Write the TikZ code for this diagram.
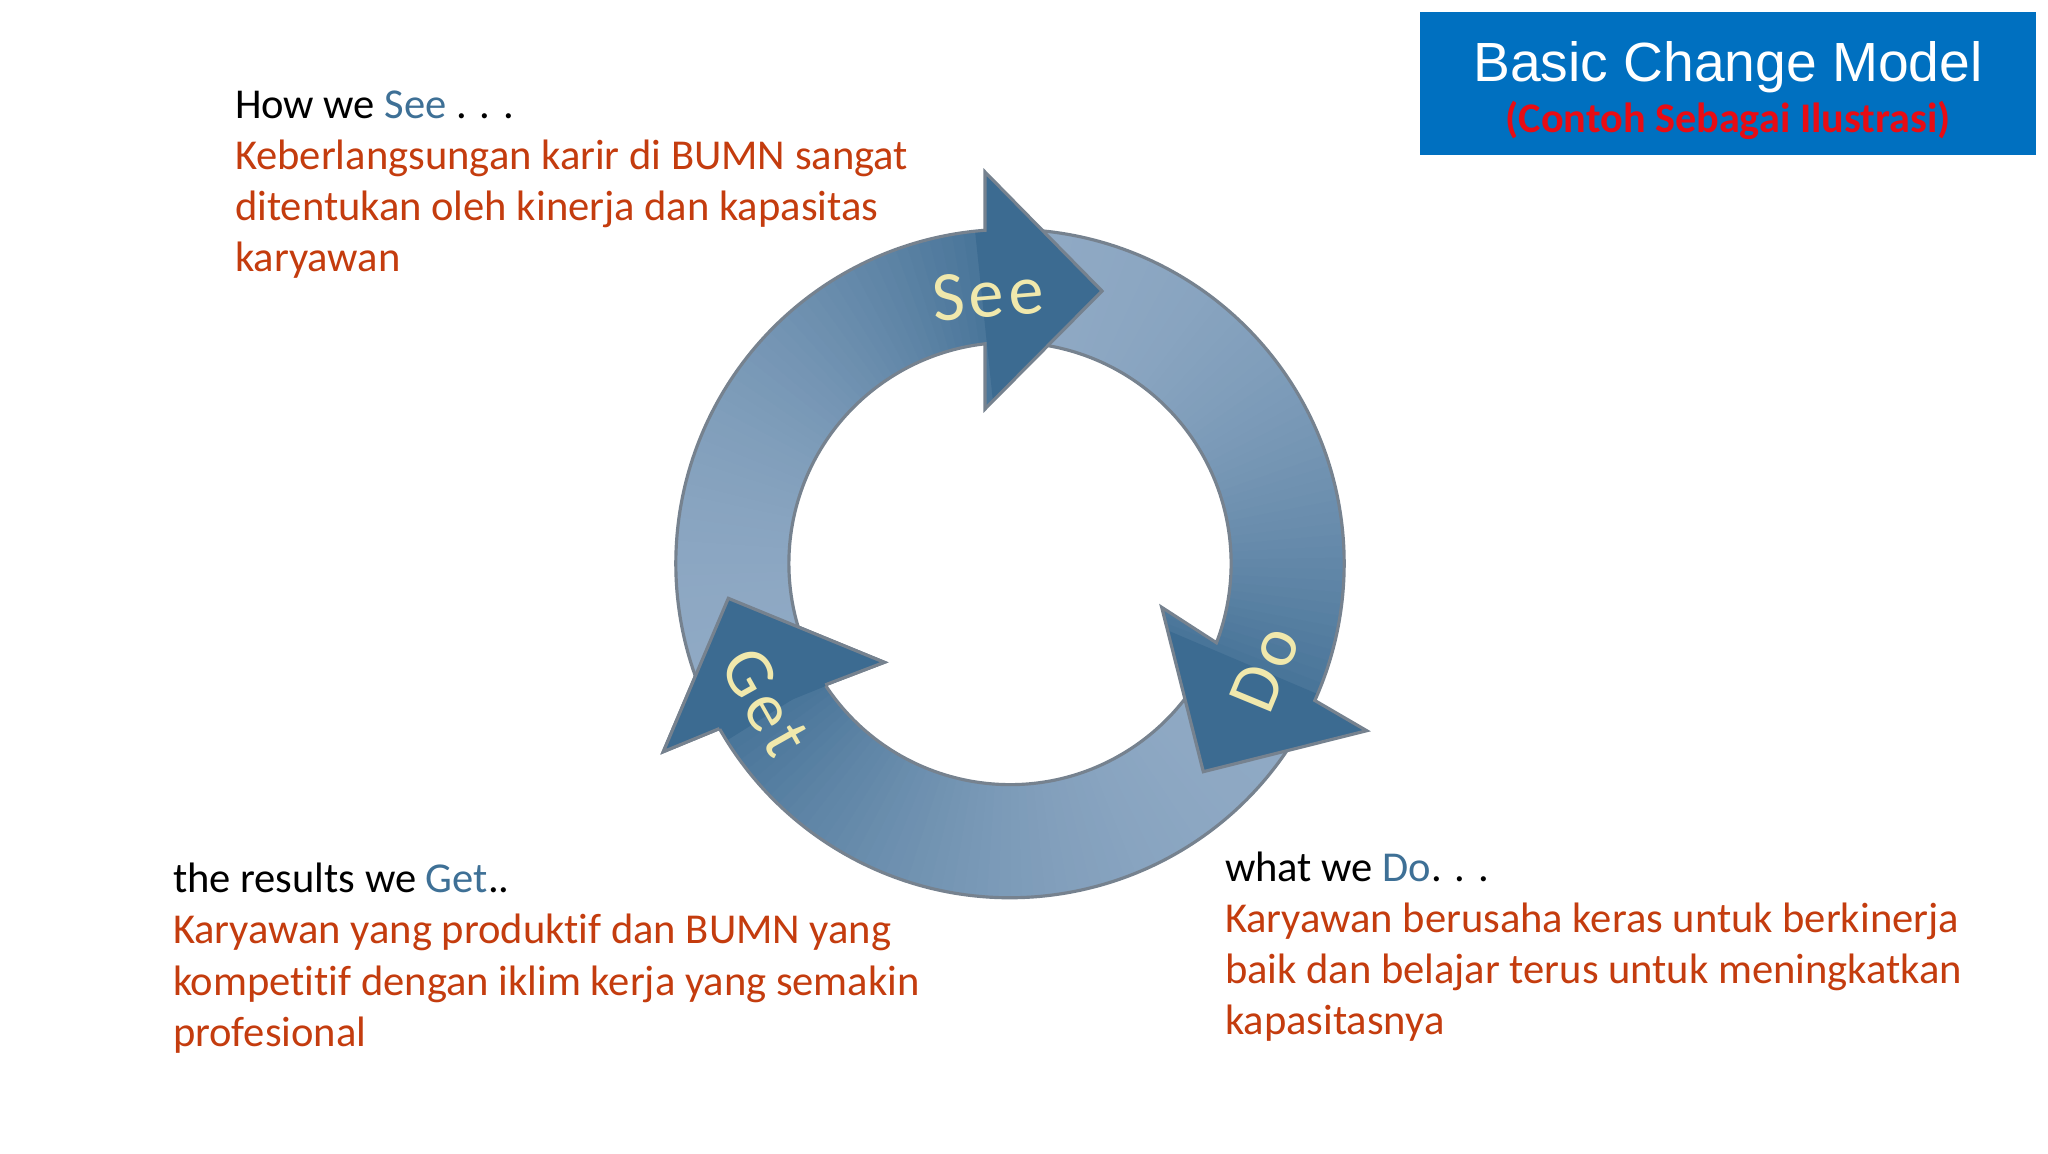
\documentclass[tikz,border=0pt]{standalone}
\usepackage{fontspec}
\setmainfont{Carlito}[Ligatures={NoCommon}]
\newfontfamily\arialf{Liberation Sans}
\newfontfamily\lblfont{Carlito}[LetterSpace=6.0]
\definecolor{alight}{RGB}{143,169,196}
\definecolor{adark}{RGB}{60,107,145}
\definecolor{aline}{RGB}{118,130,143}
\definecolor{lbltxt}{RGB}{240,232,172}
\definecolor{redtxt}{RGB}{196,60,14}
\definecolor{bluetxt}{RGB}{62,112,150}
\definecolor{titlebg}{RGB}{0,112,192}
\definecolor{subred}{RGB}{232,12,20}
% angular gradient: #1 tail angle, #2 head base angle, #3 last angle
\newcommand{\gradfill}[3]{%
  \pgfmathtruncatemacro{\nseg}{ceil((#1+3-(#3))/2)}%
  \foreach \k in {0,...,\nseg}{%
    \pgfmathsetmacro{\aa}{#1+3-2*\k}%
    \pgfmathsetmacro{\aB}{\aa-2.6}%
    \pgfmathsetmacro{\amid}{\aa-1}%
    \pgfmathsetmacro{\myt}{max(0.001,min(1,(#1-\amid)/(#1-(#2))))}%
    \pgfmathsetmacro{\myp}{\amid<#2 ? 100 : 85*\myt^2.0}%
    \fill[adark!\myp!alight] (\aa:1.3cm) -- (\aa:4.2cm) arc[start angle=\aa, end angle=\aB, radius=4.2cm] -- (\aB:1.3cm) -- cycle;
  }%
}
\def\seepath{(203:3.34cm) arc[start angle=203, end angle=94.3, radius=3.34cm] -- (-25,391.5) -- (92,272.5) -- (-25,154.5) -- (96.5:2.21cm) arc[start angle=96.5, end angle=203, radius=2.21cm] -- cycle}
\def\dopath{(90:3.34cm) arc[start angle=90, end angle=-24.2, radius=3.34cm] -- (356.7,-167.2) -- (193.3,-208.2) -- (151.7,-43.8) -- (-21:2.21cm) arc[start angle=-21, end angle=90, radius=2.21cm] -- cycle}
\def\getpath{(-29:3.34cm) arc[start angle=-29, end angle=-150.4, radius=3.34cm] -- (-346.7,-188.2) -- (-281.7,-34.8) -- (-125.7,-98.8) -- (-146.7:2.21cm) arc[start angle=-146.7, end angle=-29, radius=2.21cm] -- cycle}
\begin{document}
\begin{tikzpicture}[x=0.01cm,y=0.01cm,
  outl/.style={draw=aline, line width=0.9pt, line join=miter},
  lbl/.style={text=lbltxt, inner sep=0pt, font=\lblfont\fontsize{20}{24}\selectfont},
  bodytxt/.style={anchor=base west, inner sep=0pt, outer sep=0pt, text=redtxt, font=\fontsize{12.1}{14.5}\selectfont},
  headtxt/.style={bodytxt, text=black}]
\useasboundingbox (0,0) rectangle (2048,1153);
\fill[white] (0,0) rectangle (2048,1153);

\begin{scope}[shift={(1010,589.5)}]
  % Get arrow
  \begin{scope}
    \clip \getpath;
    \gradfill{-29}{-148.5}{-190}
  \end{scope}
  \draw[outl] \getpath;
  % Do arrow
  \begin{scope}
    \clip \dopath;
    \gradfill{90}{-22.6}{-56}
  \end{scope}
  \draw[outl] \dopath;
  % See arrow
  \begin{scope}
    \clip \seepath;
    \gradfill{203}{95.4}{60}
  \end{scope}
  \draw[outl] \seepath;
  % Get head on top of See tail
  \fill[adark] (-346.7,-188.2) -- (-281.7,-34.8) -- (-125.7,-98.8) -- cycle;
  \draw[outl] (-150.4:3.34cm) -- (-346.7,-188.2) -- (-281.7,-34.8) -- (-125.7,-98.8) -- (-146.7:2.21cm);
  % labels
  \node[lbl, rotate=4.7] (seeL) at (94.7:2.70cm) {See};
  \node[lbl, rotate=67.6] (doL) at (-22.4:2.76cm) {Do};
  \node[lbl, rotate=-60.6] (getL) at (209.4:2.81cm) {Get};
\end{scope}

% title box
\node[fill=titlebg, minimum width=6.16cm, minimum height=1.436cm, inner sep=0pt] (tbox) at (1728,1069.4) {};
\node[anchor=base, inner sep=0pt, text=white, font=\arialf\fontsize{15.7}{19}\selectfont] (title) at (1728,1072) {Basic Change Model};
\node[anchor=base, inner sep=0pt, text=subred, font=\fontsize{12}{14}\selectfont\bfseries] (subtitle) at (1728,1021) {(Contoh Sebagai Ilustrasi)};

% top-left text
\node[headtxt] (s0) at (235,1035) {How we {\color{bluetxt}See} . . .};
\node[bodytxt] (s1) at (235,983.5) {Keberlangsungan karir di BUMN sangat};
\node[bodytxt] (s2) at (235,932.5) {ditentukan oleh kinerja dan kapasitas};
\node[bodytxt] (s3) at (235,881.5) {karyawan};

% bottom-left text
\node[headtxt] (g0) at (173,261) {the results we {\color{bluetxt}Get}..};
\node[bodytxt] (g1) at (173,209.5) {Karyawan yang produktif dan BUMN yang};
\node[bodytxt] (g2) at (173,158) {kompetitif dengan iklim kerja yang semakin};
\node[bodytxt] (g3) at (173,107) {profesional};

% bottom-right text
\node[headtxt] (d0) at (1225,272) {what we {\color{bluetxt}Do}. . .};
\node[bodytxt] (d1) at (1225,221) {Karyawan berusaha keras untuk berkinerja};
\node[bodytxt] (d2) at (1225,170) {baik dan belajar terus untuk meningkatkan};
\node[bodytxt] (d3) at (1225,119) {kapasitasnya};
\end{tikzpicture}
\end{document}
